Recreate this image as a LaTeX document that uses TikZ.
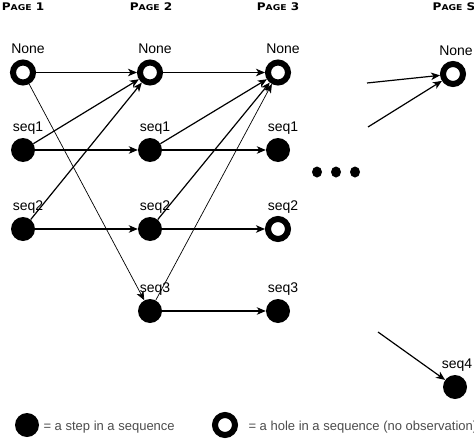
\documentclass[tikz,border=0pt]{standalone}
\usepackage{fontspec}
\setmainfont{Liberation Sans}
\newfontfamily\hdrfont{DejaVu Sans}
\usetikzlibrary{arrows.meta}
\newcommand{\pagehdr}[1]{\scalebox{1.15}[1]{\hdrfont\bfseries\fontsize{10.5}{10}\selectfont P{\fontsize{8}{8}\selectfont AGE} #1}}
\begin{document}
\begin{tikzpicture}[x=1pt,y=-1pt,
    >={Stealth[length=9pt,width=7.5pt,inset=2.5pt]},
    full/.style={circle,fill,inner sep=0pt,minimum size=24pt},
    hole/.style={circle,draw,fill=white,line width=6pt,inner sep=0pt,minimum size=20pt},
    lab/.style={font=\fontsize{14}{14}\selectfont,anchor=base,xshift=5pt,yshift=6pt},
    hdr/.style={anchor=base},
    e/.style={->,line width=1.2pt},
    te/.style={->,line width=0.7pt},
    leg/.style={anchor=base west,text=black!70,font=\fontsize{13}{13}\selectfont}]
  \useasboundingbox (0,0) rectangle (474,439);
  % page headers
  \node[hdr] (h1) at (23,10) {\pagehdr{1}};
  \node[hdr] (h2) at (151,10) {\pagehdr{2}};
  \node[hdr] (h3) at (278,10) {\pagehdr{3}};
  \node[hdr] (hS) at (454,10) {\pagehdr{S}};
  % page 1
  \node[hole,label={[lab]90:None}] (n1) at (23,72.5) {};
  \node[full,label={[lab]90:seq1}] (a1) at (23,150) {};
  \node[full,label={[lab]90:seq2}] (b1) at (23,229) {};
  % page 2
  \node[hole,label={[lab]90:None}] (n2) at (150,72.5) {};
  \node[full,label={[lab]90:seq1}] (a2) at (150,150) {};
  \node[full,label={[lab]90:seq2}] (b2) at (150,229) {};
  \node[full,label={[lab]90:seq3}] (c2) at (150,311) {};
  % page 3
  \node[hole,label={[lab]90:None}] (n3) at (278,72.5) {};
  \node[full,label={[lab]90:seq1}] (a3) at (278,150) {};
  \node[hole,label={[lab]90:seq2}] (b3) at (278,229) {};
  \node[full,label={[lab]90:seq3}] (c3) at (278,311) {};
  % page S
  \node[hole,label={[lab,xshift=-2pt]90:None}] (nS) at (453,74) {};
  \node[full,label={[lab,xshift=-3pt]90:seq4}] (dS) at (455,387) {};
  \coordinate (p1) at (367,83);
  \coordinate (p2) at (368,127);
  \coordinate (p3) at (378,332);
  % edges
  \draw[e] (n1) -- (n2);
  \draw[e] (a1) -- (n2);
  \draw[e] (a1) -- (a2);
  \draw[e] (b1) -- (n2);
  \draw[e] (b1) -- (b2);
  \draw[te] (n1) -- (c2);
  \draw[e] (n2) -- (n3);
  \draw[e] (a2) -- (n3);
  \draw[e] (a2) -- (a3);
  \draw[e] (b2) -- (n3);
  \draw[e] (b2) -- (b3);
  \draw[te] (c2) -- (n3);
  \draw[e] (c2) -- (c3);
  \draw[e] (p1) -- (nS);
  \draw[e] (p2) -- (nS);
  \draw[e] (p3) -- (dS);
  % dots
  \foreach \x in {317,336,355}
    \fill (\x,172) ellipse (5pt and 5.5pt);
  % legend
  \node[full] (lf) at (27,425) {};
  \node[leg] (lft) at (40,430) {= a step in a sequence};
  \node[hole] (lh) at (225,425) {};
  \node[leg] (lht) at (245,430) {= a hole in a sequence (no observation)};
\end{tikzpicture}
\end{document}
